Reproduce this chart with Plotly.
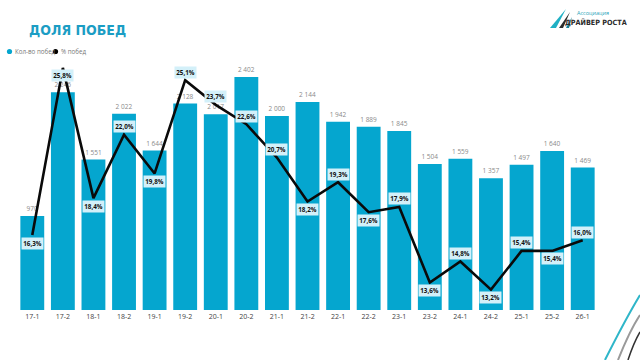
import plotly.graph_objects as go

categories = ["17-1", "17-2", "18-1", "18-2", "19-1", "19-2", "20-1", "20-2", "21-1", "21-2",
              "22-1", "22-2", "23-1", "23-2", "24-1", "24-2", "25-1", "25-2", "26-1"]
wins = [970, 2246, 1551, 2022, 1644, 2128, 2017, 2402, 2000, 2144,
        1942, 1889, 1845, 1504, 1559, 1357, 1497, 1640, 1469]
win_pct = [16.3, 25.8, 18.4, 22.0, 19.8, 25.1, 23.7, 22.6, 20.7, 18.2,
           19.3, 17.6, 17.9, 13.6, 14.8, 13.2, 15.4, 15.4, 16.0]
# label placement: +1 above the point, -1 below
label_side = [-1, -1, -1, 1, -1, 1, 1, 1, 1, -1, 1, -1, 1, -1, 1, -1, 1, -1, 1]
legend_names = ["Кол-во побед", "% побед"]

BAR = "#05a6cf"
CONDENSED = "DejaVu Sans Condensed, Liberation Sans Narrow, Roboto, sans-serif"
wins_txt = [f"{v:,}".replace(",", " ") for v in wins]
pct_txt = [f"{v:.1f}%".replace(".", ",") for v in win_pct]

fig = go.Figure()
fig.add_trace(go.Bar(
    x=categories, y=wins, marker=dict(color=BAR, line_width=0), width=0.78,
    text=wins_txt, textposition="outside", cliponaxis=False,
    textfont=dict(size=6.5, color="#8a8a8a", family="Open Sans"),
    showlegend=False, yaxis="y"))
fig.add_trace(go.Scatter(
    x=categories, y=win_pct, mode="lines", line=dict(color="#0a0a0a", width=2.6),
    showlegend=False, yaxis="y2", cliponaxis=False))

annotations = []
for c, v, t, s in zip(categories, win_pct, pct_txt, label_side):
    annotations.append(dict(
        x=c, y=v, xref="x", yref="y2", text=f"<b>{t}</b>", showarrow=False,
        yshift=8 * s, font=dict(size=6.3, color="#111", family="Open Sans"),
        bgcolor="#d3f0f9", borderpad=1.2))


def px(x, y):
    return (x - 17) / 581, (310 - y) / 265


# Title
tx, ty = px(27, 30)
annotations.append(dict(x=tx, y=ty, xref="paper", yref="paper",
                        xanchor="left", yanchor="middle", showarrow=False,
                        text="<b>ДОЛЯ ПОБЕД</b>",
                        font=dict(size=14, color="#1b9dc4", family=CONDENSED)))
# Legend (drawn as text + circles)
for name, lxp in zip(legend_names, [13, 59]):
    lx, ly = px(lxp, 51.5)
    annotations.append(dict(x=lx, y=ly, xref="paper", yref="paper",
                            xanchor="left", yanchor="middle", showarrow=False, text=name,
                            font=dict(size=6.2, color="#777", family="Open Sans")))
# Logo texts
ax, ay = px(575, 13)
annotations.append(dict(x=ax, y=ay, xref="paper", yref="paper",
                        xanchor="left", yanchor="middle", showarrow=False, text="Ассоциация",
                        font=dict(size=5.5, color="#1fa3b8", family="Open Sans")))
ax, ay = px(629, 22)
annotations.append(dict(x=ax, y=ay, xref="paper", yref="paper",
                        xanchor="right", yanchor="middle", showarrow=False, text="<b>ДРАЙВЕР РОСТА</b>",
                        font=dict(size=7.2, color="#2a2a2a", family=CONDENSED)))


def path(points):
    s = ""
    for i, (x, y) in enumerate(points):
        a, b = px(x, y)
        s += ("M" if i == 0 else " L") + f"{a:.4f},{b:.4f}"
    return s + " Z"


def curve(p0, c, p1):
    return ("M{:.4f},{:.4f}".format(*px(*p0)) + " Q{:.4f},{:.4f}".format(*px(*c))
            + " {:.4f},{:.4f}".format(*px(*p1)))


def dot(cx, cy, r, color):
    x0, y0 = px(cx - r, cy + r)
    x1, y1 = px(cx + r, cy - r)
    return dict(type="circle", xref="paper", yref="paper", x0=x0, y0=y0, x1=x1, y1=y1,
                fillcolor=color, line_width=0)


shapes = [
    dot(9.5, 51.5, 2.6, BAR),
    dot(55.5, 51.5, 2.6, "#000000"),
    dict(type="path", xref="paper", yref="paper", line_width=0, fillcolor="#1fb0c4",
         path=path([(550, 28), (566, 9), (556, 28)])),
    dict(type="path", xref="paper", yref="paper", line_width=0, fillcolor="#2c2c2c",
         path=path([(559, 28), (570, 12), (563, 28)])),
    dict(type="path", xref="paper", yref="paper", line_width=0, fillcolor="#1a7f96",
         path=path([(566, 28), (572, 17), (569, 28)])),
    # bottom-right decorative swooshes
    dict(type="path", xref="paper", yref="paper", line=dict(color="#2fb6c9", width=2),
         path=curve((605, 360), (625, 320), (640, 295))),
    dict(type="path", xref="paper", yref="paper", line=dict(color="#9a9a9a", width=2),
         path=curve((618, 360), (630, 330), (640, 315))),
    dict(type="path", xref="paper", yref="paper", line=dict(color="#333333", width=1.5),
         path=curve((628, 360), (634, 342), (640, 332))),
]

fig.update_layout(
    width=640, height=360,
    margin=dict(l=17, r=42, t=45, b=50, autoexpand=False),
    paper_bgcolor="white", plot_bgcolor="white",
    showlegend=False,
    xaxis=dict(type="category", showgrid=False, zeroline=False, showline=False, ticks="",
               tickfont=dict(size=7, color="#444", family="Open Sans"), ticklabelstandoff=1,
               automargin=False),
    yaxis=dict(range=[0, 2732], visible=False),
    yaxis2=dict(range=[12.04, 27.1], overlaying="y", visible=False),
    annotations=annotations,
    shapes=shapes,
)

fig.write_html("out.html", config={"displayModeBar": False},
               post_script="document.body.style.margin='0';document.body.style.overflow='hidden';")
